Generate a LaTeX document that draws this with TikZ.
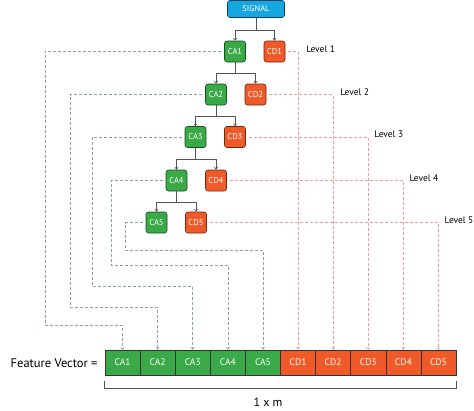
\documentclass[tikz,border=0pt]{standalone}
\usepackage{fontspec}
\setmainfont{PT Sans}
\usetikzlibrary{arrows.meta,calc}
\definecolor{sigblue}{HTML}{16A6E0}
\definecolor{cagreen}{HTML}{3AAA48}
\definecolor{cdorange}{HTML}{F05A28}
\definecolor{gline}{HTML}{8AA2A2}
\definecolor{rline}{HTML}{F09A9A}
\definecolor{treegray}{HTML}{555555}
\begin{document}
\begin{tikzpicture}[x=1pt,y=-1pt,
  box/.style={rounded corners=2.5pt, minimum width=21pt, minimum height=21pt, inner sep=0pt, text=white, font=\fontsize{8.5}{9}\selectfont, line width=0.6pt},
  cabox/.style={box, fill=cagreen, draw=cagreen!45!black},
  cdbox/.style={box, fill=cdorange, draw=cdorange!45!black},
  sigbox/.style={box, fill=sigblue, draw=sigblue!40!black, minimum width=57pt, minimum height=17pt, font=\fontsize{8.5}{9}\selectfont},
  cell/.style={draw=black!80, line width=0.5pt, minimum width=35.1pt, minimum height=25pt, inner sep=0pt, text=white, font=\fontsize{9.5}{10}\selectfont},
  treel/.style={draw=treegray, line width=0.6pt},
  treea/.style={treel, -{Straight Barb[length=2pt,width=3.2pt]}},
  gdash/.style={draw=gline, line width=0.6pt, dash pattern=on 3pt off 2pt, shorten <=3pt, -{Straight Barb[length=2pt,width=3.5pt]}},
  rdash/.style={draw=rline, line width=0.6pt, dash pattern=on 3pt off 2pt, shorten <=3pt, -{Straight Barb[length=2pt,width=3.5pt]}},
  lvl/.style={anchor=west, font=\fontsize{9.5}{10}\selectfont, inner sep=0pt},
  bracket/.style={draw=treegray, line width=0.6pt}
]
\useasboundingbox (0,0) rectangle (474,410);

% tree nodes
\node[sigbox] (sig) at (256,9) {SIGNAL};
\node[cabox] (ca1) at (235,51.5) {CA1};
\node[cdbox] (cd1) at (274.5,51.5) {CD1};
\node[cabox] (ca2) at (216,94.5) {CA2};
\node[cdbox] (cd2) at (255.5,94.5) {CD2};
\node[cabox] (ca3) at (195.5,137) {CA3};
\node[cdbox] (cd3) at (235,137) {CD3};
\node[cabox] (ca4) at (176.5,180.5) {CA4};
\node[cdbox] (cd4) at (216,180.5) {CD4};
\node[cabox] (ca5) at (156.5,222.5) {CA5};
\node[cdbox] (cd5) at (196,222.5) {CD5};

% feature vector cells
\foreach \i/\t in {1/CA1,2/CA2,3/CA3,4/CA4,5/CA5}
  \node[cell, fill=cagreen] (f\i) at ({122.55+35.1*(\i-1)},362.5) {\t};
\foreach \i/\t in {6/CD1,7/CD2,8/CD3,9/CD4,10/CD5}
  \node[cell, fill=cdorange] (f\i) at ({122.55+35.1*(\i-1)},362.5) {\t};

% tree connectors
\draw[treel] (sig.south) -- ++(0,12.5) coordinate (j0);
\draw[treea] (j0) -| (ca1.north);
\draw[treea] (j0) -| (cd1.north);
\draw[treel] (ca1.south) -- ++(0,10.5) coordinate (j1);
\draw[treea] (j1) -| (ca2.north);
\draw[treea] (j1) -| (cd2.north);
\draw[treel] (ca2.south) -- ++(0,10.5) coordinate (j2);
\draw[treea] (j2) -| (ca3.north);
\draw[treea] (j2) -| (cd3.north);
\draw[treel] (ca3.south) -- ++(0,11) coordinate (j3);
\draw[treea] (j3) -| (ca4.north);
\draw[treea] (j3) -| (cd4.north);
\draw[treel] (ca4.south) -- ++(0,10.5) coordinate (j4);
\draw[treea] (j4) -| (ca5.north);
\draw[treea] (j4) -| (cd5.north);

% approximation paths
\coordinate (g1) at (45,325);
\coordinate (g2) at (70,307);
\coordinate (g3) at (92,286);
\coordinate (g4) at (111,265);
\coordinate (g5) at (125,250);
\draw[gdash] (ca1.west) -| (g1) -| (f1.north);
\draw[gdash] (ca2.west) -| (g2) -| (f2.north);
\draw[gdash] (ca3.west) -| (g3) -| (f3.north);
\draw[gdash] (ca4.west) -| (g4) -| (f4.north);
\draw[gdash] (ca5.west) -| (g5) -| (f5.north);

% detail paths
\draw[rdash] (cd1.east) -| (f6.north);
\draw[rdash] (cd2.east) -| (f7.north);
\draw[rdash] (cd3.east) -| (f8.north);
\draw[rdash] (cd4.east) -| (f9.north);
\draw[rdash] (cd5.east) -| (f10.north);

% level labels
\node[lvl] (l1) at ($(cd1.east -| f6.north)+(8,-2.5)$) {Level 1};
\node[lvl] (l2) at ($(cd2.east -| f7.north)+(7,-2.5)$) {Level 2};
\node[lvl] (l3) at ($(cd3.east -| f8.north)+(6,-2.5)$) {Level 3};
\node[lvl] (l4) at ($(cd4.east -| f9.north)+(6,-2.5)$) {Level 4};
\node[lvl] (l5) at ($(cd5.east -| f10.north)+(6,-2.5)$) {Level 5};

% label and bracket
\node[anchor=east, inner sep=0pt, font=\fontsize{12.5}{13}\selectfont] (fv) at ($(f1.west)+(-7,1)$) {Feature Vector =};
\coordinate (bl) at ($(f1.south west)+(0,6)$);
\coordinate (br) at ($(f10.south east)+(0,6)$);
\draw[bracket] (bl) -- ++(0,7) -| (br);
\node[font=\fontsize{12}{13}\selectfont, inner sep=0pt] (dim) at (268,402) {1 x m};
\end{tikzpicture}
\end{document}
